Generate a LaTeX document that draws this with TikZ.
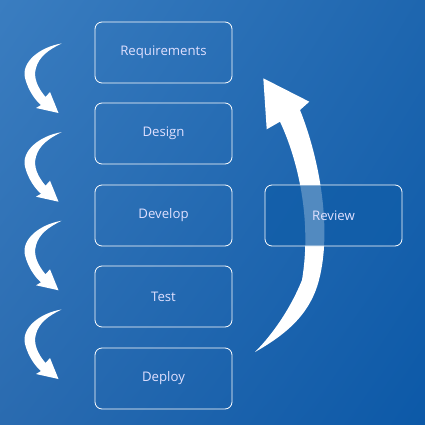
\documentclass[tikz,border=0pt]{standalone}
\usepackage{fontspec}
\setmainfont{Open Sans}
\usetikzlibrary{shadings}
\begin{document}
\begin{tikzpicture}[x=1pt,y=-1pt,
  stepbox/.style={draw=white, line width=0.8pt, rounded corners=7pt, minimum width=137pt, minimum height=61pt, text=white!88!blue, font=\fontsize{13.2}{15}\selectfont, inner sep=0pt},
  arrowfill/.style={fill=white, draw=none}]
\definecolor{bgUL}{HTML}{3A7DC0}
\definecolor{bgUR}{HTML}{1E66AF}
\definecolor{bgLL}{HTML}{2A6BB0}
\definecolor{bgLR}{HTML}{0C59A8}
\definecolor{boxfill}{HTML}{105DA8}
\useasboundingbox (0,0) rectangle (425,425);
\shade[upper left=bgUL, upper right=bgUR, lower left=bgLL, lower right=bgLR] (0,0) rectangle (425,425);
% small curved arrows
\foreach \dy in {0,88.7,177.3,266} {
  \fill[white, shift={(0,\dy)}] (61.5,43.5) .. controls (40,47) and (21,62) .. (25,78)
    .. controls (28,90) and (35,100) .. (41,105) -- (36,108) -- (58.5,113) -- (50,92) -- (45.5,97)
    .. controls (38,88) and (33,78) .. (36,68) .. controls (39,57) and (48,50) .. (61.5,43.5) -- cycle;
}
% big arrow
\fill[white] (255,352) .. controls (285,335) and (310,315) .. (319,280)
  .. controls (332,230) and (320,160) .. (300,110) -- (309.3,101.7) -- (263.3,78.3) -- (266.7,129.3) -- (280,121.7)
  .. controls (298,160) and (312,220) .. (302,280) .. controls (292,305) and (275,332) .. (255,352) -- cycle;
% boxes
\node[stepbox] (req) at (163.5,52.5) {Requirements};
\node[stepbox] (des) at (163.5,133.5) {Design};
\node[stepbox] (dev) at (163.5,215.5) {Develop};
\node[stepbox] (tst) at (163.5,296.5) {Test};
\node[stepbox] (dep) at (163.5,378.5) {Deploy};
\node[stepbox, fill=boxfill, fill opacity=0.72, text opacity=1] (rev) at (333.5,215.5) {Review};
\end{tikzpicture}
\end{document}
